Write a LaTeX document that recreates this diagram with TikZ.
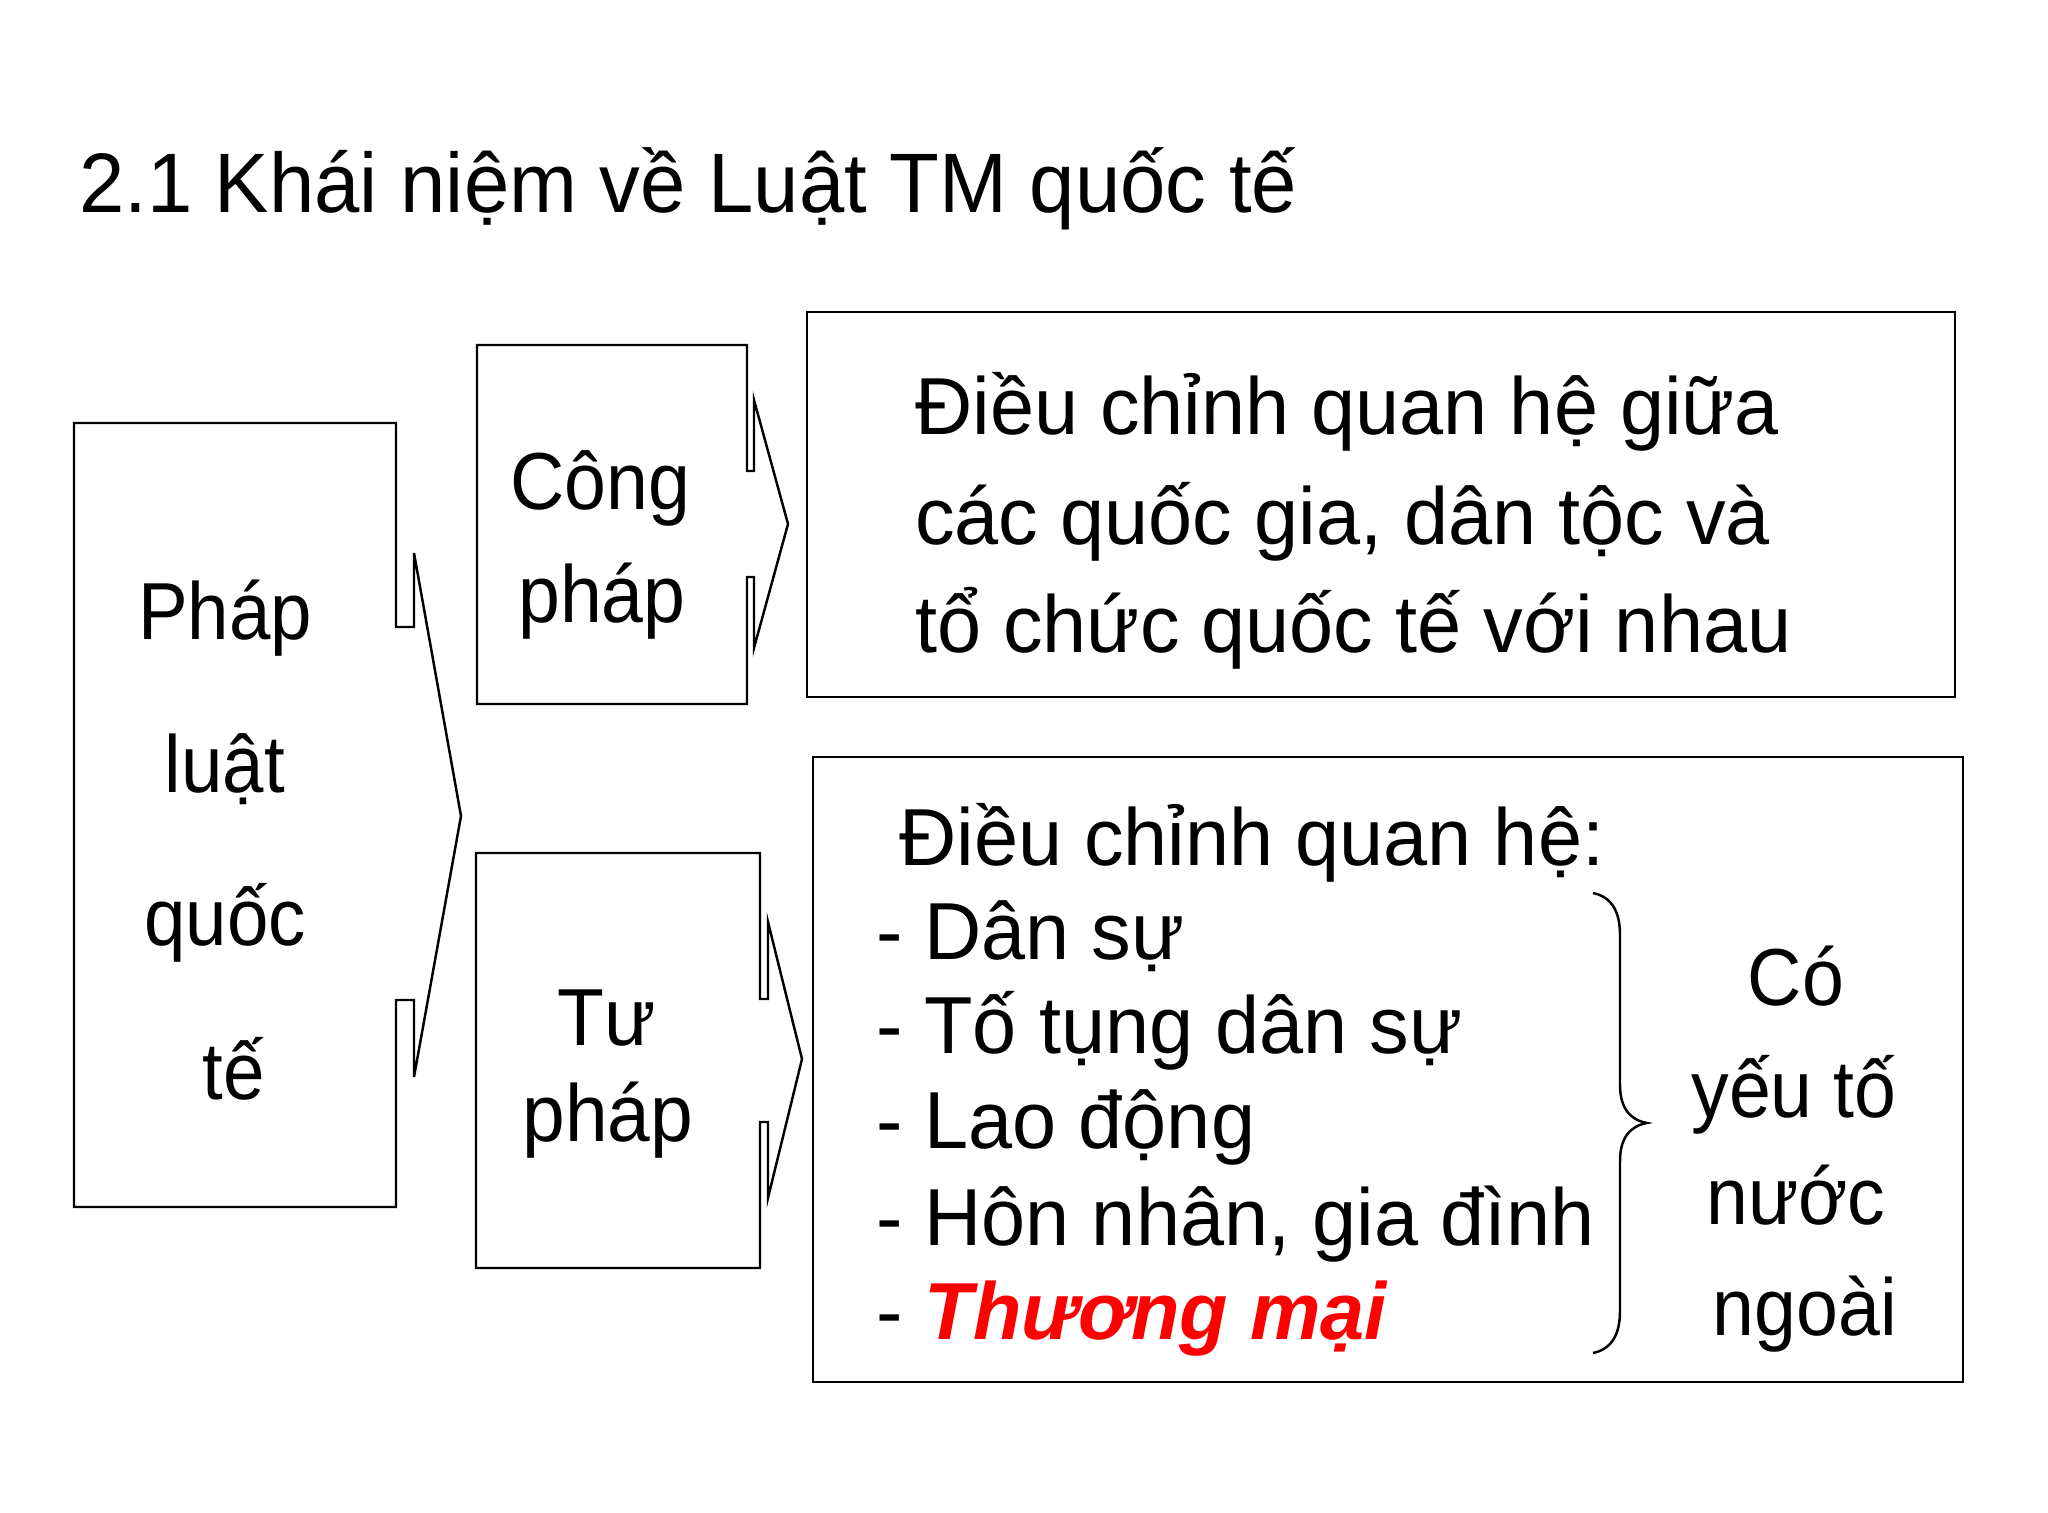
\documentclass[tikz,border=0pt]{standalone}
\usepackage{fontspec}
\usepackage{xcolor}
\setmainfont{Liberation Sans}
\usepackage{tikz}

\begin{document}
\begin{tikzpicture}[x = 0.01cm, y = -0.01cm, line width = 0.7pt,
	txt/.style = {inner sep = 0, font = \fontsize{23}{28}\selectfont},
	ltxt/.style = {txt, anchor = base west, xscale = 0.98},
	ctxt/.style = {txt, anchor = base, xscale = 0.93}]
	\useasboundingbox (0,0) rectangle (2048,1513);
	\node[ltxt, xscale = 0.985, font = \fontsize{24}{28}\selectfont] (title) at (78,213) {2.1 Khái niệm về Luật TM quốc tế};

	% left box with its arrow
	\draw (396,627) -- (396,423) -- (74,423) -- (74,1207) -- (396,1207) -- (396,1000) -- (414,1000) -- (414,1077) -- (461,816) -- (414,553) -- (414,627) -- cycle;
	\node[ctxt, xscale = 0.99] (plA) at (225,640) {Pháp};
	\node[ctxt, xscale = 0.99] (plB) at (225,793) {luật};
	\node[ctxt, xscale = 0.99] (plC) at (225,946) {quốc};
	\node[ctxt, xscale = 0.99] (plD) at (234,1100) {tế};

	% cong phap
	\draw (747,471) -- (747,345) -- (477,345) -- (477,704) -- (747,704) -- (747,577) -- (754,577) -- (754,648) -- (788,524) -- (754,400) -- (754,471) -- cycle;
	\node[ctxt] (cpA) at (600,510) {Công};
	\node[ctxt] (cpB) at (602,623) {pháp};

	% tu phap
	\draw (760,999) -- (760,853) -- (476,853) -- (476,1268) -- (760,1268) -- (760,1122) -- (768,1122) -- (768,1198) -- (802,1059) -- (768,922) -- (768,999) -- cycle;
	\node[ctxt, xscale = 1.02] (tpA) at (607,1046) {Tư};
	\node[ctxt, xscale = 1.02] (tpB) at (608,1142) {pháp};

	% top right box
	\draw (807,312) rectangle (1955,697);
	\node[ltxt] (dcA) at (914,435) {Điều chỉnh quan hệ giữa};
	\node[ltxt] (dcB) at (914,545) {các quốc gia, dân tộc và};
	\node[ltxt] (dcC) at (914,653) {tổ chức quốc tế với nhau};

	% bottom right box
	\draw (813,757) rectangle (1963,1382);
	\node[ltxt] (qhHead) at (898,866) {Điều chỉnh quan hệ:};
	\node[ltxt] (qhA) at (875,960) {- Dân sự};
	\node[ltxt] (qhB) at (875,1054) {- Tố tụng dân sự};
	\node[ltxt] (qhC) at (875,1149) {- Lao động};
	\node[ltxt] (qhD) at (875,1245) {- Hôn nhân, gia đình};
	\node[ltxt] (qhE) at (875,1339) {- \textcolor{red}{\bfseries\itshape Thương mại}};

	% brace
	\draw (1593,893) .. controls (1612,897) and (1620,912) .. (1620,935) -- (1620,1085) .. controls (1620,1108) and (1630,1120) .. (1647,1123) .. controls (1630,1126) and (1620,1138) .. (1620,1161) -- (1620,1311) .. controls (1620,1334) and (1612,1349) .. (1593,1353);
	\node[ctxt] (ytA) at (1796,1006) {Có};
	\node[ctxt] (ytB) at (1794,1117) {yếu tố};
	\node[ctxt] (ytC) at (1796,1225) {nước};
	\node[ctxt] (ytD) at (1805,1335) {ngoài};
\end{tikzpicture}
\end{document}
